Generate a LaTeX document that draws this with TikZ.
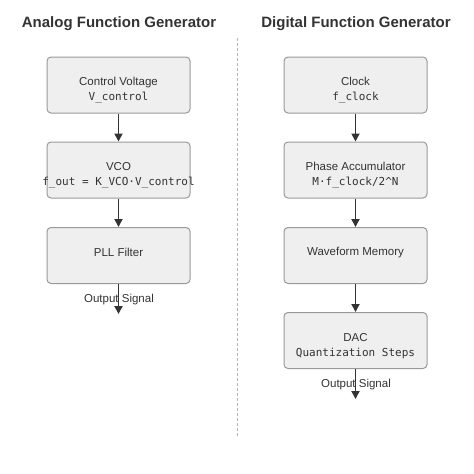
\documentclass[tikz,border=0pt]{standalone}
\usepackage{fontspec}
\setmainfont{Liberation Sans}
\newfontfamily\codefont{DejaVu Sans Mono}
\usetikzlibrary{arrows.meta, positioning}
\definecolor{inkgray}{HTML}{333333}
\definecolor{boxfill}{HTML}{EFEFEF}
\definecolor{boxline}{HTML}{999999}

\tikzset{
  block/.style={draw=boxline, fill=boxfill, rounded corners=4pt, line width=1pt,
    minimum width=143pt, minimum height=56pt, inner sep=0pt},
  blocktext/.style={align=center, text=inkgray, font=\fontsize{11.5}{15}\selectfont, inner sep=0pt},
  flow/.style={draw=inkgray, line width=1.8pt, -{Triangle[length=8pt,width=8pt]}},
  title/.style={text=inkgray, font=\fontsize{15}{17}\selectfont\bfseries},
  outlabel/.style={text=inkgray, font=\fontsize{11.5}{13}\selectfont, inner sep=0pt}
}
\newcommand{\code}[1]{{\codefont\fontsize{11}{15}\selectfont #1}}

\begin{document}
\begin{tikzpicture}[x=1pt, y=-1pt]
    \useasboundingbox (0,0) rectangle (474,474);

    % Titles
    \node[title] (atitle) at (119,24) {Analog Function Generator};
    \node[title] (dtitle) at (356,24) {Digital Function Generator};

    % Divider
    \draw[gray!60, line width=0.8pt, dash pattern=on 3pt off 2pt] (237,38) -- (237,436);

    % Analog chain
    \node[block] (ctrl) at (118.5,85) {};
    \node[blocktext, yshift=-5.5pt] (ctrltext) at (ctrl.center) {Control Voltage\\\code{V\_control}};
    \node[block] (vco) at (118.5,170) {};
    \node[blocktext, yshift=-5.5pt] (vcotext) at (vco.center) {VCO\\\code{f\_out = K\_VCO·V\_control}};
    \node[block] (pll) at (118.5,255.5) {};
    \node[blocktext] (plltext) at (118.5,252.5) {PLL Filter};
    \coordinate (aout) at (118.5,314);

    \draw[flow] (ctrl) -- (vco);
    \draw[flow] (vco) -- (pll);
    \draw[flow] (pll) -- (aout);
    \node[outlabel] (aoutlabel) at (119,300) {Output Signal};

    % Digital chain
    \node[block] (clock) at (355.5,85) {};
    \node[blocktext, yshift=-5.5pt] (clocktext) at (clock.center) {Clock\\\code{f\_clock}};
    \node[block] (phase) at (355.5,170) {};
    \node[blocktext, yshift=-5.5pt] (phasetext) at (phase.center) {Phase Accumulator\\\code{M·f\_clock/2\^{}N}};
    \node[block] (memory) at (355.5,255.5) {};
    \node[blocktext] (memorytext) at (355.5,252.5) {Waveform Memory};
    \node[block] (dac) at (355.5,340.5) {};
    \node[blocktext, yshift=-5.5pt] (dactext) at (dac.center) {DAC\\\code{Quantization Steps}};
    \coordinate (dout) at (355.5,399);

    \draw[flow] (clock) -- (phase);
    \draw[flow] (phase) -- (memory);
    \draw[flow] (memory) -- (dac);
    \draw[flow] (dac) -- (dout);
    \node[outlabel] (doutlabel) at (356,385) {Output Signal};
\end{tikzpicture}
\end{document}
